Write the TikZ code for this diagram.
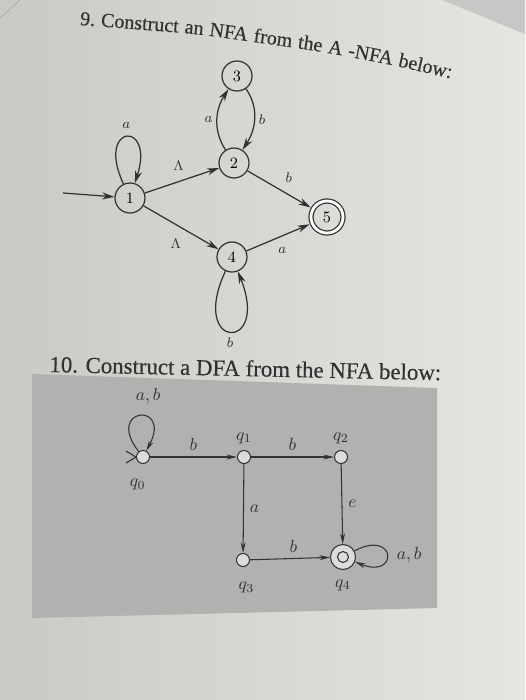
\documentclass[tikz,border=0pt]{standalone}
\usepackage{amsmath,amssymb}
\usepackage{fontspec}
\usetikzlibrary{positioning,calc,arrows.meta}
\newfontfamily\headfont[FakeBold=0.4]{Liberation Serif}
\definecolor{pageleft}{RGB}{203,201,197}
\definecolor{pageright}{RGB}{231,229,226}
\definecolor{pageshade}{RGB}{200,199,198}
\definecolor{boxgray}{RGB}{178,177,175}
\definecolor{ink}{RGB}{50,50,50}

\begin{document}
\begin{tikzpicture}[x=0.02cm,y=-0.02cm,
    >={Stealth[length=7pt,width=4pt]},
    st/.style={circle,draw=ink,line width=0.7pt,minimum size=0.6cm,inner sep=0pt,font=\small},
    acc/.style={st,minimum size=0.64cm,double,double distance=1.6pt,outer sep=1.6pt},
    lbl/.style={font=\footnotesize,text=ink},
    qst/.style={circle,draw=ink,fill=boxgray!45!white,line width=0.6pt,minimum size=0.26cm,inner sep=0pt},
    qacc/.style={qst,minimum size=0.5cm},
    title/.style={anchor=base west,inner sep=0pt,text=ink}]
    \useasboundingbox (0,0) rectangle (525,700);
    \fill[left color=pageleft,right color=pageright] (0,0) rectangle (525,700);
    \fill[pageshade] (442,0) -- (525,0) -- (525,34) -- cycle;
    \draw[gray!70,line width=0.4pt] (0,18) -- (20,0);

    \node[title] (t9w0) at (77,25) {};
    \foreach \w/\r [count=\i] in {9./-4, Construct/-4.5, an/-6, NFA/-8, from/-8,
        the/-9, A/-10, -NFA/-11, below:/-13}{
      \pgfmathtruncatemacro\j{\i-1}
      \node[title,rotate=\r,font=\headfont\fontsize{11.4}{14}\selectfont] (t9w\i) at (t9w\j.base east) {\w\kern0.26em};
    }

    \foreach \n/\x/\y in {1/130/198, 2/234/163, 3/237/76, 4/232/257}{
      \node[st] (s\n) at (\x,\y) {\n};
    }
    \node[acc] (s5) at (327,217) {5};
    \coordinate (start) at (63,193);
    \draw[->,ink,line width=0.7pt] (start) -- (s1);
    \draw[->,ink,line width=0.7pt] (s1) to[out=115,in=72,distance=38pt] node[above=1pt,lbl] {$a$} (s1);
    \draw[->,ink,line width=0.7pt] (s1) -- node[above=2pt,xshift=-2pt,lbl] {$\Lambda$} (s2);
    \draw[->,ink,line width=0.7pt] (s1) -- node[below=3pt,xshift=-3pt,lbl] {$\Lambda$} (s4);
    \draw[->,ink,line width=0.7pt] (s2) to[out=123,in=237] node[left=-1pt,lbl] {$a$} (s3);
    \draw[->,ink,line width=0.7pt] (s3) to[out=-55,in=57] node[right=-1pt,lbl] {$b$} (s2);
    \draw[->,ink,line width=0.7pt] (s2) -- node[above right,lbl] {$b$} (s5);
    \draw[->,ink,line width=0.7pt] (s4) -- node[below=3pt,pos=0.57,lbl] {$a$} (s5);
    \draw[->,ink,line width=0.7pt] (s4) to[out=245,in=292,distance=50pt] node[below,lbl] {$b$} (s4);

    \node[title,rotate=-1.2,font=\headfont\fontsize{13}{15}\selectfont] (title10) at (49,372)
        {10. Construct a DFA from the NFA below:};
    \fill[boxgray] (32,374) -- (437,388) -- (437,608) -- (32,618) -- cycle;

    \begin{scope}[>={Stealth[length=6pt,width=2.8pt]},every label/.style={text=ink}]
    \node[qst,label={[label distance=5pt,xshift=-3pt]below:$q_0$}] (q0) at (143,457) {};
    \node[qst,label=above:$q_1$] (q1) at (244,457) {};
    \node[qst,label=above:$q_2$] (q2) at (341,457) {};
    \node[qst,label={[label distance=5pt,xshift=2pt]below:$q_3$}] (q3) at (243,560) {};
    \node[qacc,label={[label distance=2pt]below:$q_4$}] (q4) at (343,557) {};
    \node[qst,minimum size=0.22cm] (q4in) at (q4) {};
    \coordinate (c0a) at (126,451);
    \coordinate (c0b) at (126,463);
    \draw[ink,line width=0.6pt] (c0a) -- (q0.west) -- (c0b);
    \draw[->,ink,line width=0.6pt] (q0) to[out=128,in=62,distance=32pt] node[above=3pt,xshift=5pt,text=ink] {$a,b$} (q0);
    \draw[->,ink,line width=0.6pt] (q0) -- node[above,text=ink] {$b$} (q1);
    \draw[->,ink,line width=0.6pt] (q1) -- node[above,text=ink] {$b$} (q2);
    \draw[->,ink,line width=0.6pt] (q1) -- node[right,text=ink] {$a$} (q3);
    \draw[->,ink,line width=0.6pt] (q2) -- node[right,text=ink] {$e$} (q4);
    \draw[->,ink,line width=0.6pt] (q3) -- node[above,xshift=2pt,text=ink] {$b$} (q4);
    \draw[->,ink,line width=0.6pt] (q4) to[out=28,in=-22,distance=27pt] node[right,xshift=2pt,text=ink] {$a,b$} (q4);
    \end{scope}
\end{tikzpicture}
\end{document}
